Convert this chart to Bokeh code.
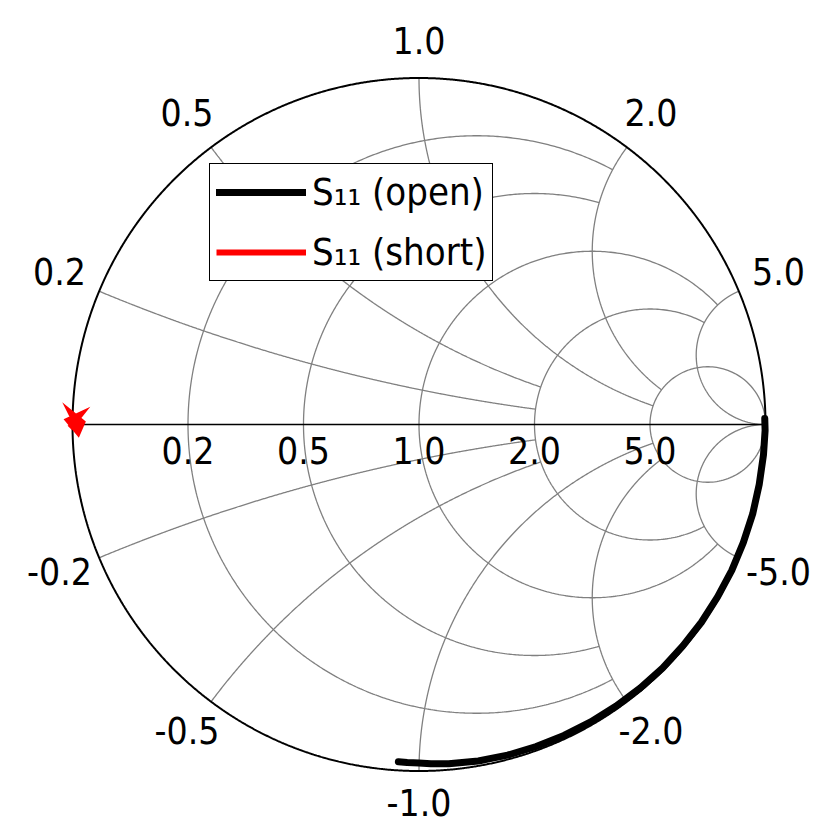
import numpy as np
from bokeh.plotting import figure
from bokeh.models import ColumnDataSource, Legend, LegendItem, Range1d
from bokeh.core.properties import value
from bokeh.embed import file_html
from bokeh.resources import INLINE

# ---------------- data ----------------
# Smith chart grid: normalised resistance circles and reactance arcs
grid_r = [0.2, 0.5, 1.0, 2.0, 5.0]
grid_r_xmax = [2.0, 2.0, 5.0, 5.0, np.inf]   # |x| up to which each r-circle is drawn
grid_x = [0.2, 0.5, 1.0, 2.0, 5.0]
grid_x_rmax = [2.0, 2.0, 5.0, 5.0, np.inf]   # r up to which each x-arc is drawn
real_labels = ["0.2", "0.5", "1.0", "2.0", "5.0"]
imag_labels_pos = ["0.2", "0.5", "1.0", "2.0", "5.0"]
imag_labels_neg = ["-0.2", "-0.5", "-1.0", "-2.0", "-5.0"]

# S11 (open): phase (deg) and magnitude
open_phase_deg = [1.0, -1.0, -5.0, -10.0, -15.0, -20.0, -25.0, -30.0, -35.0, -40.0,
                  -45.0, -50.0, -55.0, -60.0, -65.0, -70.0, -75.0, -80.0, -85.0,
                  -88.0, -90.0, -92.0, -93.5]
open_mag = [0.998, 0.999, 0.998, 0.997, 0.997, 0.996, 0.996, 0.995, 0.995, 0.994,
            0.994, 0.993, 0.992, 0.991, 0.990, 0.989, 0.988, 0.986, 0.983,
            0.980, 0.977, 0.976, 0.975]

# S11 (short): cluster of points around Gamma = -1
short_re = [-1.000, -0.978, -1.012, -0.984, -0.972, -1.004, -0.982, -0.996, -0.990, -1.008]
short_im = [0.000, 0.028, 0.012, -0.022, 0.006, 0.032, -0.012, 0.018, 0.008, -0.010]

# ---------------- helpers ----------------
def gamma(z):
    return (z - 1) / (z + 1)

PX = 346.5           # pixels per unit reflection coefficient
W, H = 822, 838
CX, CY = 418.5, 424  # centre of chart inside figure (px from left / top)

p = figure(width=W, height=H,
           x_range=Range1d(-CX / PX, (W - CX) / PX),
           y_range=Range1d(-(H - CY) / PX, CY / PX),
           output_backend="svg", toolbar_location=None,
           x_axis_location=None, y_axis_location=None,
           min_border=0, outline_line_color=None,
           background_fill_color="white", border_fill_color="white")
p.xgrid.visible = False
p.ygrid.visible = False

# ---------------- grid ----------------
gx, gy = [], []
for r, xm in zip(grid_r, grid_r_xmax):
    tmax = np.arctan(xm) if np.isfinite(xm) else np.pi / 2 - 1e-7
    t = np.linspace(-tmax, tmax, 600)
    g = gamma(r + 1j * np.tan(t))
    gx.append(g.real); gy.append(g.imag)
for xv, rm in zip(grid_x, grid_x_rmax):
    tmax = np.arctan(rm) if np.isfinite(rm) else np.pi / 2 - 1e-7
    t = np.linspace(0, tmax, 600)
    for s in (1, -1):
        g = gamma(np.tan(t) + 1j * s * xv)
        gx.append(g.real); gy.append(g.imag)
p.multi_line(gx, gy, line_color="#808080", line_width=1.3)

# outer circle (r = 0) and real axis (x = 0)
th = np.linspace(-np.pi / 2 + 1e-7, np.pi / 2 - 1e-7, 2000)
oc = gamma(1j * np.tan(th))
p.line(np.append(oc.real, oc.real[0]), np.append(oc.imag, oc.imag[0]),
       line_color="black", line_width=2)
ra = gamma(np.tan(np.linspace(0, np.pi / 2 - 1e-7, 400)) + 0j)
p.line(ra.real, ra.imag, line_color="black", line_width=1.6)

# ---------------- traces ----------------
ph = np.radians(open_phase_deg)
mg = np.array(open_mag)
open_src = ColumnDataSource(dict(x=mg * np.cos(ph), y=mg * np.sin(ph)))
r_open = p.line("x", "y", source=open_src, line_color="black", line_width=7,
                line_join="round", line_cap="round")
short_src = ColumnDataSource(dict(x=short_re, y=short_im))
r_short = p.line("x", "y", source=short_src, line_color="#ff0000", line_width=6,
                 line_join="miter")

# ---------------- labels ----------------
lx, ly, lt = [], [], []
for v, lp, ln in zip(grid_x, imag_labels_pos, imag_labels_neg):
    for s, txt in ((1, lp), (-1, ln)):
        g = gamma(1j * s * v)
        ang = np.angle(g)
        rr = 1.10 + 0.026 * abs(np.cos(ang))
        lx.append(rr * np.cos(ang))
        ly.append(rr * np.sin(ang) + 3.0 / PX)
        lt.append(txt)
for r, txt in zip(grid_r, real_labels):
    lx.append(gamma(r))
    ly.append(-26 / PX)
    lt.append(txt)
p.text(x=lx, y=ly, text=lt, text_align="center", text_baseline="middle",
       text_font=value("DejaVu Sans Condensed"), text_font_size="37px",
       text_color="black")

# ---------------- legend ----------------
legend = Legend(items=[LegendItem(label="S\u2081\u2081 (open)", renderers=[r_open]),
                       LegendItem(label="S\u2081\u2081 (short)", renderers=[r_short])],
                location=(209, H - 281), margin=0, padding=6, spacing=16,
                glyph_width=90, glyph_height=44, label_height=44, label_standoff=6,
                label_text_font="DejaVu Sans Condensed", label_text_font_size="38px",
                label_text_color="black",
                border_line_color="black", border_line_width=1.5, border_line_alpha=1.0,
                background_fill_color="white", background_fill_alpha=1.0)
p.add_layout(legend)

open("out.html", "w").write(file_html(p, INLINE))
